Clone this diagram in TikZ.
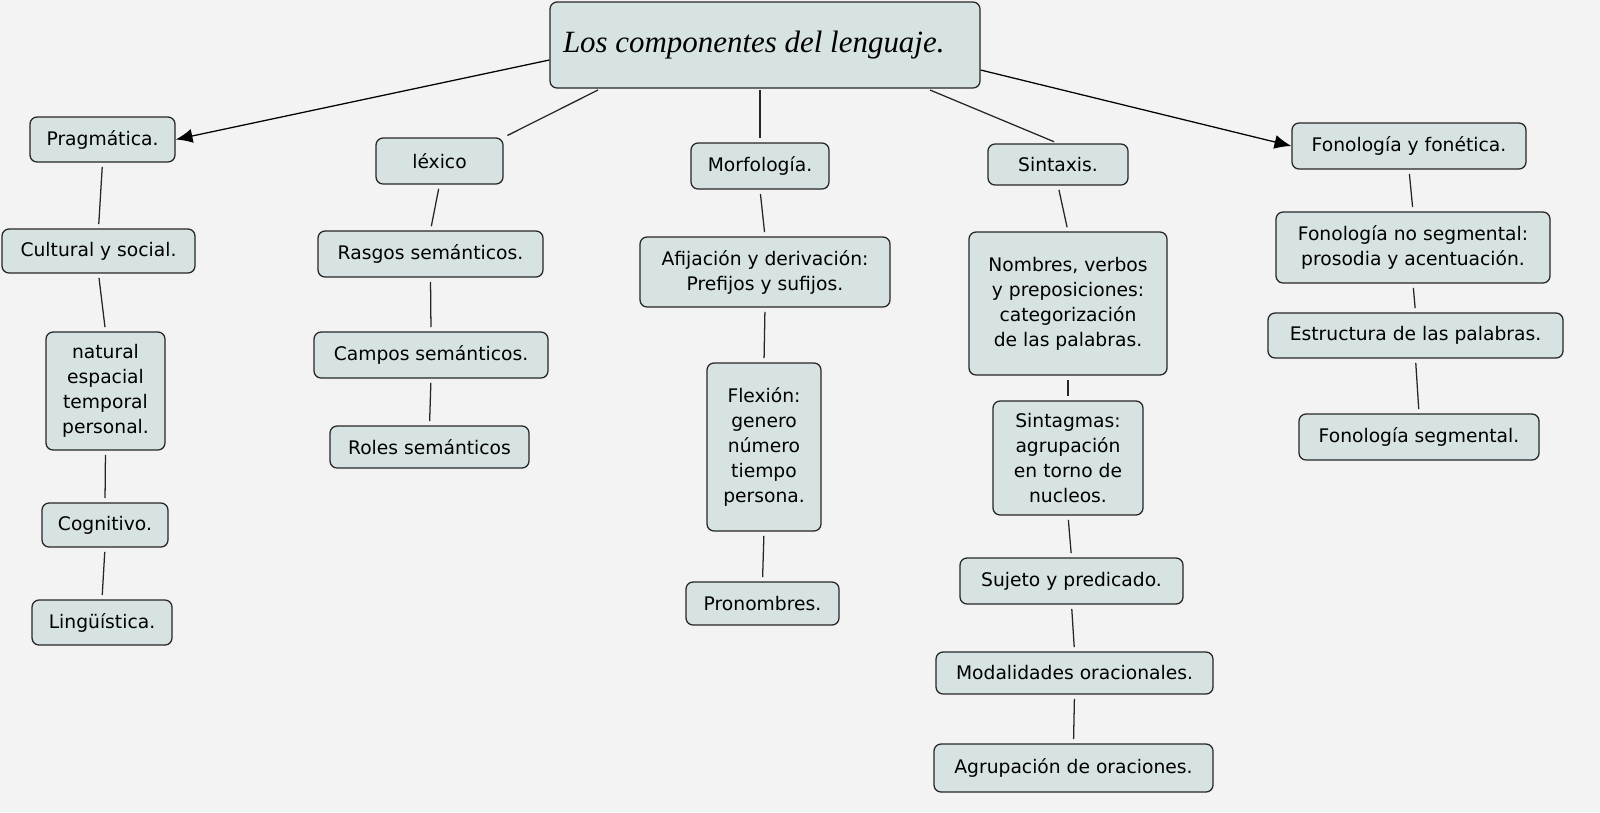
\documentclass[tikz,border=0pt]{standalone}
\usepackage{fontspec}
\setmainfont{DejaVu Sans}
\newfontfamily\titlefont{Liberation Serif}
\usetikzlibrary{arrows.meta}
\begin{document}
\begin{tikzpicture}[x=0.025cm,y=-0.025cm,
  box/.style={draw=black!85,line width=0.9pt,rounded corners=5pt,fill=boxfill,align=center,inner sep=0pt,
    font=\fontsize{13.3}{17.8}\selectfont},
  ln/.style={draw=black!85,line width=0.9pt,shorten >=3pt,shorten <=3pt},
  arr/.style={draw=black,line width=0.9pt,-{Latex[length=12pt,width=10pt]}}]
\definecolor{boxfill}{HTML}{D7E2E2}
\definecolor{bgc}{HTML}{F3F3F3}
\fill[bgc] (0,0) rectangle (1600,812);
\useasboundingbox (0,0) rectangle (1600,812);
\newcommand{\bx}[6]{\node[box,minimum width={(#4-#2)*0.025cm},minimum height={(#5-#3)*0.025cm}] (#1) at ({(#2+#4)/2},{(#3+#5)/2}) {#6};}
\node[box,minimum width={430*0.025cm},minimum height={86*0.025cm},font=\titlefont\itshape\fontsize{22}{24}\selectfont] (t) at (765,45) {Los componentes del lenguaje.\hspace*{16pt}};
\bx{p1}{30}{117}{175}{162}{Pragmática.}
\bx{p2}{2}{229}{195}{273}{Cultural y social.}
\bx{p3}{46}{332}{165}{450}{natural\\espacial\\temporal\\personal.}
\bx{p4}{42}{503}{168}{547}{Cognitivo.}
\bx{p5}{32}{600}{172}{645}{Lingüística.}
\bx{l1}{376}{138}{503}{184}{léxico}
\bx{l2}{318}{231}{543}{277}{Rasgos semánticos.}
\bx{l3}{314}{332}{548}{378}{Campos semánticos.}
\bx{l4}{330}{426}{529}{468}{Roles semánticos}
\bx{m1}{691}{143}{829}{189}{Morfología.}
\bx{m2}{640}{237}{890}{307}{Afijación y derivación:\\Prefijos y sufijos.}
\bx{m3}{707}{363}{821}{531}{Flexión:\\genero\\número\\tiempo\\persona.}
\bx{m4}{686}{582}{839}{625}{Pronombres.}
\bx{s1}{988}{144}{1128}{185}{Sintaxis.}
\bx{s2}{969}{232}{1167}{375}{Nombres, verbos\\y preposiciones:\\categorización\\de las palabras.}
\bx{s3}{993}{401}{1143}{515}{Sintagmas:\\agrupación\\en torno de\\nucleos.}
\bx{s4}{960}{558}{1183}{604}{Sujeto y predicado.}
\bx{s5}{936}{652}{1213}{694}{Modalidades oracionales.}
\bx{s6}{934}{744}{1213}{792}{Agrupación de oraciones.}
\bx{f1}{1292}{123}{1526}{169}{Fonología y fonética.}
\bx{f2}{1276}{212}{1550}{283}{Fonología no segmental:\\prosodia y acentuación.}
\bx{f3}{1268}{313}{1563}{358}{Estructura de las palabras.}
\bx{f4}{1299}{414}{1539}{460}{Fonología segmental.}
\draw[arr] (t.west |- 0,60) -- (p1.east);
\draw[ln,shorten <=0pt] (598,90) -- (l1.north east);
\draw[ln,shorten <=0pt] (760,90) -- (m1.north);
\draw[ln,shorten <=0pt] (930,90) -- (s1.north);
\draw[arr] (t.east |- 0,70) -- (f1.west);
\foreach \a/\b in {p1/p2,p2/p3,p3/p4,p4/p5,l1/l2,l2/l3,l3/l4,m1/m2,m2/m3,m3/m4,s1/s2,s2/s3,s3/s4,s4/s5,s5/s6,f1/f2,f2/f3,f3/f4}
  \draw[ln] (\a.south) -- (\b.north);
\end{tikzpicture}
\end{document}
